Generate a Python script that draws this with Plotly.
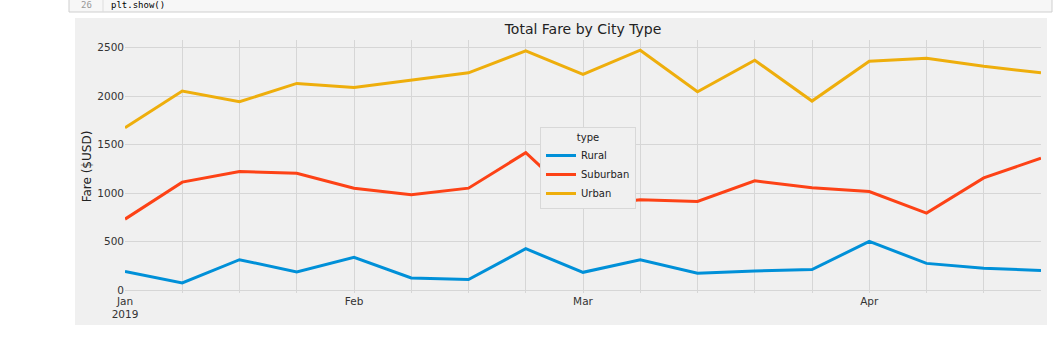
import plotly.graph_objects as go
import pandas as pd

weeks = pd.date_range("2019-01-06", "2019-04-28", freq="W-SUN")
rural = [195, 76, 315, 189, 339, 127, 110, 428, 185, 315, 175, 199, 213, 504, 277, 226, 205]
suburban = [733, 1114, 1223, 1206, 1052, 983, 1052, 1418, 870, 932, 915, 1127, 1055, 1017, 795, 1158, 1361]
urban = [1675, 2052, 1942, 2131, 2090, 2165, 2240, 2466, 2223, 2473, 2045, 2370, 1949, 2360, 2391, 2308, 2240]
series_names = ["Rural", "Suburban", "Urban"]
series_colors = ["#0090d8", "#fd4216", "#eeae0c"]
month_labels = {pd.Timestamp("2019-01-06"): "Jan<br>2019", pd.Timestamp("2019-02-03"): "Feb",
                pd.Timestamp("2019-03-03"): "Mar", pd.Timestamp("2019-04-07"): "Apr"}
y_ticks = [0, 500, 1000, 1500, 2000, 2500]

W, H = 1060, 337
L, R, T, B = 125, 1041, 40, 293
PW, PH = R - L, B - T

def px(p):
    return (p - L) / PW

def py(p):
    return (B - p) / PH

FONT = "DejaVu Sans"
fig = go.Figure()
for name, vals, col in zip(series_names, [rural, suburban, urban], series_colors):
    fig.add_trace(go.Scatter(x=weeks, y=vals, mode="lines", name=name,
                             line=dict(color=col, width=3)))

ticktext = [month_labels.get(d, "") for d in weeks]

fig.update_layout(
    width=W, height=H,
    margin=dict(l=L, r=W - R, t=T, b=H - B, pad=0),
    paper_bgcolor="white",
    plot_bgcolor="#f0f0f0",
    font=dict(family=FONT, color="#333333", size=11),
    title=dict(text="Total Fare by City Type", x=(583) / W, xanchor="center",
               y=1 - 29 / H, yanchor="middle", font=dict(size=14, color="#222222")),
    showlegend=True,
    legend=dict(x=px(540), y=py(127), xanchor="left", yanchor="top",
                bgcolor="#f0f0f0", bordercolor="#d8d8d8", borderwidth=1,
                font=dict(size=10, color="#222222"),
                title=dict(text="type", side="top center", font=dict(size=10, color="#222222"))),
    xaxis=dict(type="date", range=[weeks[0], weeks[-1]], tickmode="array",
               tickvals=list(weeks), ticktext=ticktext, showgrid=True,
               gridcolor="#d6d6d6", gridwidth=1, zeroline=False, showline=False,
               ticks="", tickfont=dict(size=10.5, color="#333333"), fixedrange=True),
    yaxis=dict(range=[-28, 2578], tickmode="array", tickvals=y_ticks,
               ticktext=[str(v) for v in y_ticks], showgrid=True, gridcolor="#d6d6d6",
               gridwidth=1, zeroline=False, showline=False, ticks="",
               tickfont=dict(size=10.5, color="#333333"),
               title=dict(text="Fare ($USD)", standoff=3, font=dict(size=12, color="#222222"))),
)

# figure panel (matplotlib figure background)
fig.add_shape(type="rect", xref="paper", yref="paper", x0=px(75), x1=px(1047),
              y0=py(325), y1=py(18), fillcolor="#f0f0f0", line_width=0, layer="below")
# notebook code cell above the figure
fig.add_shape(type="rect", xref="paper", yref="paper", x0=px(69), x1=px(1052),
              y0=py(12), y1=py(-5), fillcolor="#f7f7f7",
              line=dict(color="#cfcfcf", width=1), layer="below")
fig.add_shape(type="line", xref="paper", yref="paper", x0=px(103), x1=px(103),
              y0=py(12), y1=py(-5), line=dict(color="#dddddd", width=1), layer="below")
fig.add_annotation(xref="paper", yref="paper", x=px(109), y=py(5.5), xanchor="left",
                   yanchor="middle", text="plt.show()", showarrow=False,
                   font=dict(family="DejaVu Sans Mono", size=9, color="#000000"))
fig.add_annotation(xref="paper", yref="paper", x=px(79), y=py(5.5), xanchor="left",
                   yanchor="middle", text="26", showarrow=False,
                   font=dict(family="DejaVu Sans Mono", size=9, color="#999999"))

fig.write_html("out.html")
